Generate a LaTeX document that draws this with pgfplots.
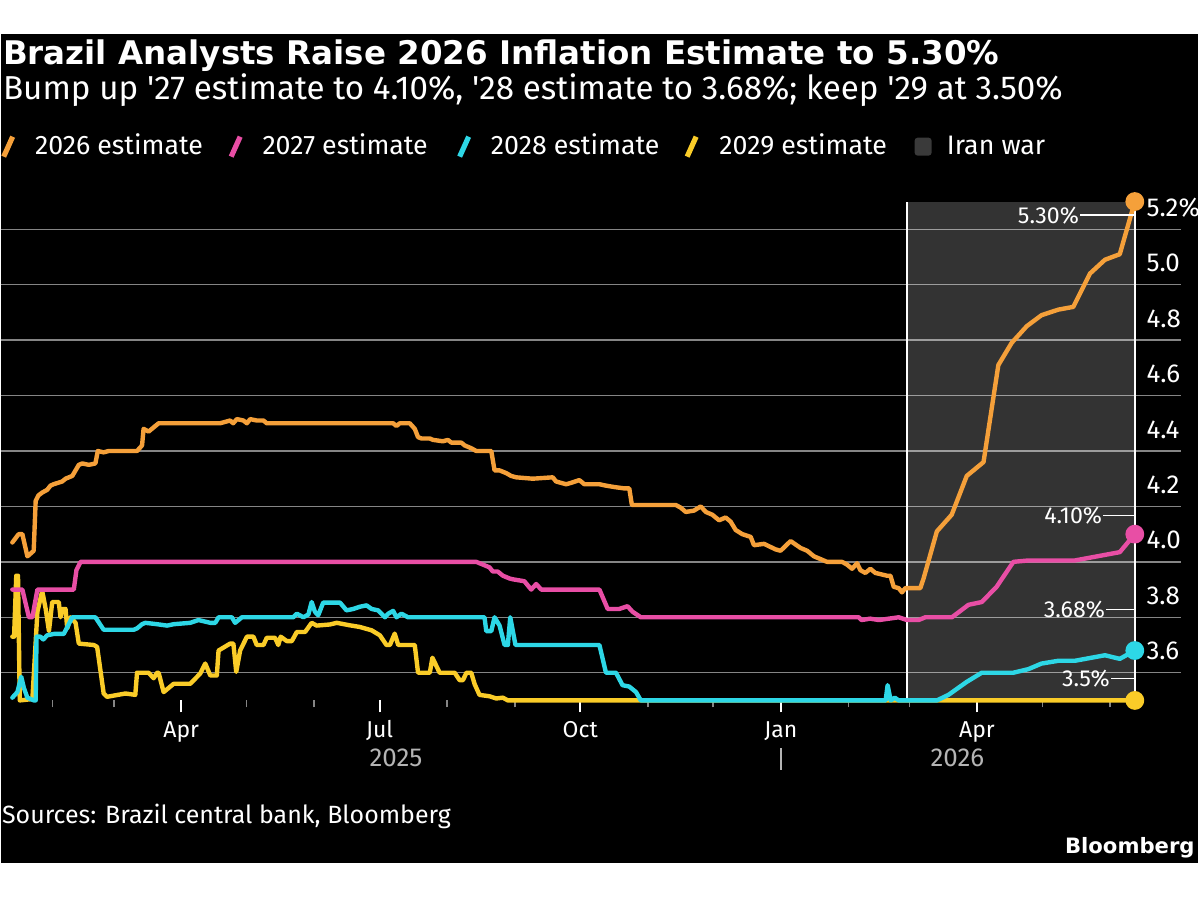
\documentclass[border=0pt]{standalone}
\usepackage{fontspec}
\setmainfont{Fira Sans}
\newfontfamily\headfont{DejaVu Sans}
\usepackage{pgfplots}
\pgfplotsset{compat=1.18}

\definecolor{c26}{HTML}{F5A03A}
\definecolor{c27}{HTML}{E84EA5}
\definecolor{c28}{HTML}{2DD7E6}
\definecolor{c29}{HTML}{FACC28}
\definecolor{gridc}{HTML}{858585}
\definecolor{yearc}{HTML}{B4B4B4}
\definecolor{legbox}{HTML}{3A3A3A}

\begin{document}
\begin{tikzpicture}
% page and dark panel (1 unit = 1 px, y downwards)
\begin{scope}[x=0.5pt,y=-0.5pt]
  \useasboundingbox (0,0) rectangle (1200,900);
  \fill[white] (0,0) rectangle (1200,900);
  \fill[black] (0,34) rectangle (1200,865);
\end{scope}

\begin{axis}[
  at={(0pt,-351pt)}, anchor=south west,
  scale only axis, width=591.5pt, height=250pt,
  xmin=7.16, xmax=548.6, ymin=3.5, ymax=5.3,
  clip=false,
  axis line style={draw=none},
  tick align=outside,
  xtick pos=bottom, ytick pos=right, yticklabel pos=right,
  xtick={90,181,273,365,455},
  xticklabels={Apr,Jul,Oct,Jan,Apr},
  minor xtick={31,59,120,151,212,243,304,334,396,424,485,516},
  major tick length=6pt, minor tick length=3.5pt,
  every major x tick/.append style={white, line width=1pt},
  every minor x tick/.append style={color=gridc, line width=0.8pt},
  xticklabel style={white, font=\fontsize{11.5}{13}\selectfont, anchor=base, yshift=-12.5pt},
  ytick={3.6,3.8,4.0,4.2,4.4,4.6,4.8,5.0,5.2},
  yticklabels={3.6,3.8,4.0,4.2,4.4,4.6,4.8,5.0,5.2\%},
  every major y tick/.append style={draw=none},
  yticklabel style={white, font=\fontsize{13}{15}\selectfont, anchor=base west, inner sep=0pt, xshift=-23.5pt, yshift=6.5pt},
  ymajorgrids, grid style={color=gridc, line width=0.7pt},
  every axis plot/.append style={line width=2.2pt, line join=round, line cap=round},
]

% Iran war period
\addplot[draw=none, fill=white, fill opacity=0.2] coordinates {(423,3.5) (423,5.3) (527.4,5.3) (527.4,3.5)};
\addplot[white, line width=1pt, line cap=butt] coordinates {(423,3.5) (423,5.3)};
\addplot[white, line width=1pt, line cap=butt] coordinates {(527.4,3.5) (527.4,5.3)};

% 2029 estimate
\addplot[c29] coordinates {
(12.5,3.73)(13.3,3.73)(14.3,3.95)(15.1,3.95)(15.9,3.50)(21.7,3.505)(24.0,3.82)(26.2,3.895)(27.8,3.83)(29.3,3.75)
(30.8,3.855)(33.8,3.855)(34.6,3.80)(35.5,3.83)(36.9,3.83)(37.7,3.76)(39.2,3.80)(41.5,3.78)(43.0,3.705)(49.9,3.70)
(51.4,3.693)(54.4,3.525)(55.9,3.513)(64.4,3.525)(68.9,3.52)(69.7,3.60)(75.0,3.60)(77.3,3.58)(78.9,3.60)(79.6,3.60)
(81.9,3.53)(86.5,3.56)(94.1,3.56)(98.7,3.597)(101.0,3.633)(103.3,3.59)(106.3,3.59)(107.1,3.68)(112.4,3.705)(113.9,3.705)
(115.2,3.603)(117.0,3.68)(120.1,3.73)(123.1,3.73)(124.6,3.70)(127.7,3.70)(129.2,3.726)(133.0,3.726)(134.5,3.70)(135.6,3.73)
(138.4,3.714)(140.7,3.714)(143.0,3.747)(146.8,3.747)(149.8,3.78)(152.1,3.77)(158.2,3.774)(161.3,3.78)(167.3,3.771)(171.9,3.765)
(177.3,3.753)(181.1,3.735)(184.1,3.70)(185.7,3.70)(187.9,3.741)(189.5,3.70)(197.1,3.70)(198.6,3.60)(204.0,3.60)(205.2,3.654)
(208.5,3.60)(215.4,3.60)(217.7,3.573)(219.2,3.573)(220.8,3.60)(223.0,3.60)(224.6,3.558)(226.8,3.52)(231.4,3.515)(234.5,3.507)
(237.5,3.51)(239.8,3.50)(527.4,3.50)};

% 2028 estimate
\addplot[c28] coordinates {
(12.5,3.51)(14.8,3.53)(16.6,3.585)(17.8,3.545)(19.4,3.51)(22.4,3.50)(23.2,3.50)(23.6,3.73)(25.4,3.73)(26.7,3.72)
(28.5,3.735)(31.6,3.74)(36.1,3.74)(38.4,3.775)(40.0,3.80)(50.6,3.80)(54.4,3.755)(68.2,3.755)(69.7,3.76)(72.0,3.775)
(73.5,3.78)(78.9,3.775)(83.5,3.77)(86.5,3.775)(94.1,3.78)(97.9,3.79)(103.3,3.78)(105.6,3.78)(107.1,3.80)(113.2,3.80)
(114.7,3.78)(117.8,3.80)(141.4,3.80)(143.0,3.813)(146.0,3.80)(148.3,3.81)(149.8,3.855)(151.3,3.82)(152.8,3.807)(155.1,3.853)
(162.8,3.853)(165.8,3.825)(168.9,3.83)(171.9,3.838)(175.0,3.843)(177.3,3.83)(180.3,3.825)(183.4,3.80)(184.9,3.813)(187.2,3.823)
(188.7,3.80)(191.0,3.813)(194.0,3.80)(229.1,3.80)(229.9,3.75)(232.2,3.75)(233.7,3.80)(236.0,3.77)(238.3,3.70)(239.8,3.70)
(240.9,3.80)(243.3,3.70)(281.8,3.70)(284.8,3.60)(289.4,3.60)(292.4,3.555)(295.5,3.55)(298.6,3.53)(300.8,3.50)(413.1,3.50)
(414.0,3.555)(415.4,3.50)(417.3,3.51)(419.1,3.50)(436.6,3.50)(441.9,3.52)(450.3,3.567)(457.2,3.60)(471.7,3.60)(478.6,3.613)
(484.6,3.633)(492.3,3.643)(499.9,3.643)(513.7,3.663)(520.5,3.65)(527.4,3.68)};

% 2027 estimate
\addplot[c27] coordinates {
(12.5,3.90)(17.1,3.90)(20.1,3.80)(21.7,3.80)(24.0,3.90)(40.7,3.90)(41.9,3.97)(43.8,4.00)(225.3,4.00)(228.4,3.99)
(231.4,3.98)(232.9,3.965)(235.2,3.965)(237.5,3.95)(240.6,3.94)(242.1,3.937)(247.4,3.93)(250.5,3.90)(252.8,3.92)(255.1,3.90)
(281.8,3.90)(285.6,3.83)(290.9,3.83)(294.7,3.84)(297.0,3.82)(300.8,3.80)(400.8,3.80)(402.0,3.79)(406.0,3.795)(410.0,3.79)
(419.1,3.80)(422.9,3.79)(428.2,3.79)(431.3,3.80)(443.5,3.80)(451.1,3.845)(457.2,3.855)(464.0,3.91)(471.7,4.00)(478.6,4.005)
(499.9,4.005)(520.5,4.035)(527.4,4.10)};

% 2026 estimate
\addplot[c26] coordinates {
(12.5,4.07)(15.4,4.10)(17.1,4.10)(19.4,4.02)(20.9,4.03)(22.3,4.04)(23.2,4.22)(24.5,4.24)(26.2,4.25)(28.5,4.26)
(30.0,4.275)(31.4,4.28)(35.4,4.29)(36.9,4.30)(40.0,4.31)(41.5,4.33)(43.0,4.35)(44.6,4.355)(47.6,4.35)(50.6,4.355)
(51.7,4.40)(54.4,4.395)(56.7,4.40)(69.7,4.40)(72.0,4.42)(72.7,4.48)(75.0,4.47)(77.3,4.485)(79.6,4.50)(107.8,4.50)
(112.4,4.51)(113.8,4.50)(115.5,4.515)(118.5,4.51)(120.1,4.50)(121.6,4.515)(124.6,4.51)(127.7,4.51)(129.2,4.50)(187.2,4.50)
(188.7,4.49)(190.2,4.50)(194.8,4.50)(197.1,4.48)(198.6,4.45)(200.2,4.445)(204.0,4.445)(205.5,4.44)(210.0,4.435)(212.3,4.44)
(213.9,4.43)(218.5,4.43)(220.0,4.42)(223.0,4.41)(225.3,4.40)(232.2,4.40)(233.7,4.33)(236.0,4.33)(239.1,4.32)(241.3,4.31)
(243.6,4.305)(251.2,4.30)(260.4,4.305)(261.9,4.29)(266.5,4.28)(268.8,4.285)(272.6,4.295)(274.9,4.28)(281.8,4.28)(284.8,4.275)
(288.6,4.27)(293.2,4.265)(295.5,4.265)(296.7,4.205)(300.1,4.205)(316.9,4.205)(319.2,4.195)(321.4,4.18)(325.2,4.185)(328.3,4.20)
(330.6,4.18)(333.6,4.17)(336.7,4.15)(339.7,4.16)(342.0,4.145)(344.3,4.115)(347.3,4.10)(351.2,4.09)(352.7,4.06)(357.3,4.065)
(362.6,4.045)(364.9,4.04)(369.5,4.075)(374.1,4.05)(377.1,4.04)(380.2,4.02)(386.2,4.00)(393.1,4.00)(395.4,3.99)(397.7,3.975)
(400.0,3.995)(401.5,3.97)(403.8,3.96)(406.1,3.975)(408.4,3.96)(413.7,3.95)(415.3,3.95)(416.8,3.91)(419.1,3.905)(420.6,3.89)
(422.1,3.905)(429.0,3.905)(430.5,3.94)(436.6,4.11)(443.4,4.17)(450.3,4.31)(458.0,4.36)(464.8,4.71)(470.9,4.79)(477.8,4.85)
(484.6,4.89)(492.3,4.91)(499.2,4.92)(506.8,5.04)(513.7,5.09)(520.5,5.11)(527.4,5.30)};

% end-point dots
\addplot[only marks, mark=*, mark size=3.6pt, c29] coordinates {(527.4,3.50)};
\addplot[only marks, mark=*, mark size=3.6pt, c28] coordinates {(527.4,3.68)};
\addplot[only marks, mark=*, mark size=3.6pt, c27] coordinates {(527.4,4.10)};
\addplot[only marks, mark=*, mark size=3.6pt, c26] coordinates {(527.4,5.30)};

% value call-outs
\draw[white, line width=0.75pt] (axis cs:502.4,5.251) -- (axis cs:527.4,5.251);
\draw[white, line width=0.75pt] (axis cs:513.0,4.167) -- (axis cs:527.4,4.167);
\draw[white, line width=0.75pt] (axis cs:514.3,3.828) -- (axis cs:527.4,3.828);
\draw[white, line width=0.75pt] (axis cs:516.5,3.579) -- (axis cs:527.4,3.579);
\begin{scope}[every node/.style={white, anchor=east, inner sep=0.5pt, font=\fontsize{11.6}{13}\selectfont}]
  \node at (axis cs:502.4,5.251) {5.30\%};
  \node at (axis cs:513.0,4.167) {4.10\%};
  \node at (axis cs:514.3,3.828) {3.68\%};
  \node at (axis cs:516.5,3.579) {3.5\%};
\end{scope}

% years under the month labels
\node[yearc, anchor=base, font=\fontsize{13}{15}\selectfont] at ([yshift=-33pt]axis cs:188.5,3.5) {2025};
\node[yearc, anchor=base, font=\fontsize{13}{15}\selectfont] at ([yshift=-33pt]axis cs:446,3.5) {2026};
\draw[yearc, line width=0.8pt] ([yshift=-24pt]axis cs:365,3.5) -- ([yshift=-35pt]axis cs:365,3.5);
\end{axis}

\begin{scope}[x=0.5pt,y=-0.5pt]
  \node[white, anchor=base west, inner sep=0pt, font=\headfont\bfseries\fontsize{16.3}{19}\selectfont] at (2,65)
    {Brazil Analysts Raise 2026 Inflation Estimate to 5.30\%};
  \node[white, anchor=base west, inner sep=0pt, font=\fontsize{16.6}{19}\selectfont] at (2,100)
    {Bump up \textquotesingle27 estimate to 4.10\%, \textquotesingle28 estimate to 3.68\%; keep \textquotesingle29 at 3.50\%};
  % legend
  \begin{scope}[line width=2.6pt, line cap=butt]
    \draw[c26] (3,157) -- (12,137);
    \draw[c27] (231,157) -- (240,137);
    \draw[c28] (460,157) -- (469,137);
    \draw[c29] (688,157) -- (697,137);
  \end{scope}
  \fill[legbox, rounded corners=1.5pt] (916,138) rectangle (933,156);
  \begin{scope}[every node/.style={white, anchor=base west, inner sep=0pt, font=\fontsize{13.4}{15}\selectfont}]
    \node at (34,155) {2026 estimate};
    \node at (262,155) {2027 estimate};
    \node at (491,155) {2028 estimate};
    \node at (720,155) {2029 estimate};
    \node at (948,155) {Iran war};
  \end{scope}
  \node[white, anchor=base west, inner sep=0pt, font=\fontsize{12.5}{15}\selectfont] at (1,825)
    {Sources: Brazil central bank, Bloomberg};
  \node[white, anchor=base east, inner sep=0pt, font=\headfont\bfseries\fontsize{10.6}{13}\selectfont] at (1197,855)
    {Bloomberg};
\end{scope}
\end{tikzpicture}
\end{document}
